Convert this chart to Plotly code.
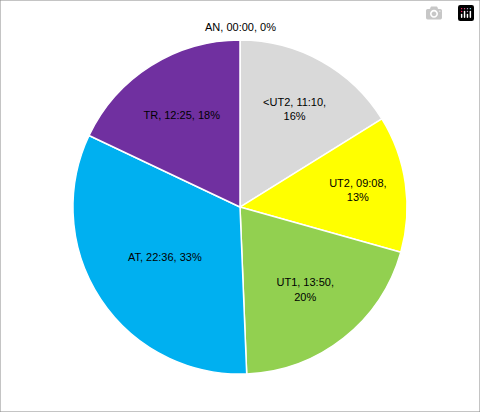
import plotly.graph_objects as go

# data
zones = ["AN", "&lt;UT2", "UT2", "UT1", "AT", "TR"]
times = ["00:00", "11:10", "09:08", "13:50", "22:36", "12:25"]
minutes = [0, 670, 548, 830, 1356, 745]
colors = ["#FFFFFF", "#D9D9D9", "#FFFF00", "#92D050", "#00B0F0", "#7030A0"]

total = sum(minutes)
pcts = [round(100 * m / total) for m in minutes]
texts = []
for z, t, p in zip(zones, times, pcts):
    if z in ("AT", "TR"):
        texts.append(f"{z}, {t}, {p}%")
    else:
        texts.append(f"{z}, {t},<br>{p}%")

fig = go.Figure()
fig.add_trace(go.Pie(
    values=minutes[1:], labels=zones[1:], text=texts[1:],
    textinfo="text", textposition="inside", insidetextorientation="horizontal",
    marker=dict(colors=colors[1:], line=dict(color="white", width=1.5)),
    sort=False, direction="clockwise", rotation=0, showlegend=False,
    textfont=dict(family="Liberation Sans", size=11, color="black"),
    domain=dict(x=[0.152, 0.848], y=[0.092, 0.903]),
    hoverinfo="skip",
))

# zero-valued AN slice label sits above the pie
fig.add_annotation(text=f"{zones[0]}, {times[0]}, {pcts[0]}%", x=0.5, y=0.915,
                   xref="paper", yref="paper", showarrow=False, yanchor="bottom",
                   font=dict(family="Liberation Sans", size=11, color="black"))

fig.add_shape(type="rect", xref="paper", yref="paper", x0=0, y0=0, x1=1, y1=1,
              line=dict(color="#898989", width=1))

fig.update_layout(width=480, height=412, margin=dict(l=0, r=0, t=0, b=0),
                  paper_bgcolor="white", plot_bgcolor="white")

fig.write_html("out.html",
               post_script="document.body.style.margin='0';document.body.style.overflow='hidden';")
